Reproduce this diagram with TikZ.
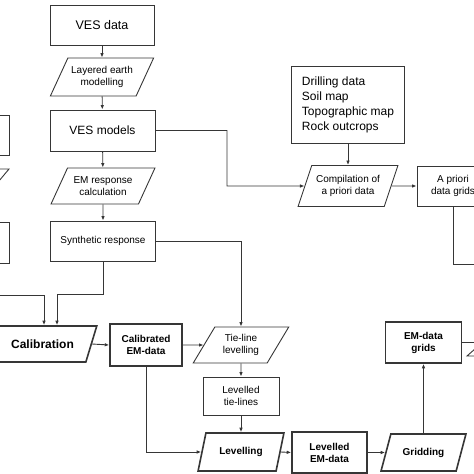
\documentclass[tikz,border=0pt]{standalone}
\usepackage{fontspec}
\setmainfont{Liberation Sans}
\usetikzlibrary{shapes.geometric,arrows.meta,calc}
\definecolor{ln}{HTML}{363636}
\tikzset{
  base/.style={draw=ln, line width=0.9pt, inner sep=1pt, align=center, text=black,
    font=\fontsize{10}{12}\selectfont},
  box/.style={base, rectangle},
  bbox/.style={base, rectangle, line width=1.6pt, font=\fontsize{10}{12}\selectfont\bfseries},
  para/.style={base, trapezium, trapezium left angle=#1, trapezium right angle={180-#1},
    trapezium stretches=true},
  bpara/.style={para=#1, line width=1.6pt, font=\fontsize{10}{12}\selectfont\bfseries},
  arr/.style={draw=ln, line width=0.9pt, -{Latex[length=4.5pt,width=3.6pt]}},
  ln/.style={draw=ln, line width=0.9pt},
}
\begin{document}
\begin{tikzpicture}[x=1pt,y=-1pt]
\clip (0,0) rectangle (474,474);
% main column
\node[box, minimum width=104pt, minimum height=40pt, font=\fontsize{12.5}{15}\selectfont] (vesd) at (102,25) {VES data};
\node[para=55, minimum width=104pt, minimum height=38pt] (lay) at (102,77) {Layered earth\\modelling};
\node[box, minimum width=105pt, minimum height=41pt, font=\fontsize{12}{14}\selectfont] (vesm) at (102.5,130.5) {VES models};
\node[para=56, minimum width=104pt, minimum height=36pt] (emr) at (103,186) {EM response\\calculation};
\node[box, minimum width=105pt, minimum height=40pt] (syn) at (103,241) {Synthetic response};
% bottom row
\node[bpara=53, minimum width=109pt, minimum height=36pt, font=\fontsize{12}{14}\selectfont\bfseries] (cal) at (42.5,344) {Calibration};
\node[bbox, minimum width=72pt, minimum height=42pt] (cemd) at (146,345) {Calibrated\\EM-data};
\node[para=56, minimum width=96pt, minimum height=36pt] (tie) at (241,345) {Tie-line\\levelling};
\node[box, minimum width=76pt, minimum height=38pt] (ltl) at (241,396) {Levelled\\tie-lines};
\node[bpara=66, minimum width=86pt, minimum height=38pt] (lev) at (241,452) {Levelling};
\node[bbox, minimum width=75pt, minimum height=41pt] (lemd) at (329.5,452.5) {Levelled\\EM-data};
\node[bpara=60, minimum width=85pt, minimum height=37pt] (grid) at (423.5,452.5) {Gridding};
\node[bbox, minimum width=76pt, minimum height=41pt] (emg) at (423.5,342.5) {EM-data\\grids};
% a priori branch
\node[box, minimum width=113pt, minimum height=68pt, align=left, inner sep=10pt,
  font=\fontsize{12}{15}\selectfont] (drill) at (348,105) {Drilling data\\Soil map\\Topographic map\\Rock outcrops};
\node[para=62, minimum width=100pt, minimum height=41pt] (comp) at (348,186) {Compilation of\\a priori data};
\node[box, minimum width=72pt, minimum height=40pt] (apri) at (453,186) {A priori\\data grids};
% partly visible shapes at the edges
\node[box, minimum width=72pt, minimum height=40pt] (lb1) at (-27,135) {};
\node[para=53, minimum width=100pt, minimum height=36pt] (lp1) at (-41,187) {};
\node[box, minimum width=72pt, minimum height=41pt] (lb2) at (-27,242.5) {};
\node[para=52, minimum width=100pt, minimum height=27pt] (rp1) at (517,342.5) {};
\coordinate (lin) at (-40,344);
\coordinate (lt) at (-10,295);
\coordinate (b1) at (227,186);
\coordinate (ar) at (480,264);
% connectors
\draw[arr] (vesd) -- (lay);
\draw[arr] (lay) -- (vesm);
\draw[arr] (vesm) -- (emr);
\draw[arr] (emr) -- (syn);
\draw[arr] (vesm.east) -| (b1) -- (comp.west);
\draw[arr] (drill) -- (comp);
\draw[arr] (comp.east) -- (apri.west);
\draw[ln] (apri.south) |- (ar);
\draw[arr] (syn.east) -| (tie.north);
\draw[arr] (syn.south) -- ++(0,33) -| ([xshift=14.5pt]cal.north);
\draw[arr] (lt) -| ([xshift=1.5pt]cal.north);
\draw[arr] (lin) -- (cal.west);
\draw[arr] (cal.east) -- (cemd.west);
\draw[arr] (cemd.east) -- (tie.west);
\draw[arr] (tie) -- (ltl);
\draw[arr] (ltl) -- (lev);
\draw[arr] (cemd.south) |- (lev.west);
\draw[arr] (lev.east) -- (lemd.west);
\draw[arr] (lemd.east) -- (grid.west);
\draw[arr] (grid) -- (emg);
\draw[arr] (emg.east) -- (rp1.west);
\end{tikzpicture}
\end{document}
